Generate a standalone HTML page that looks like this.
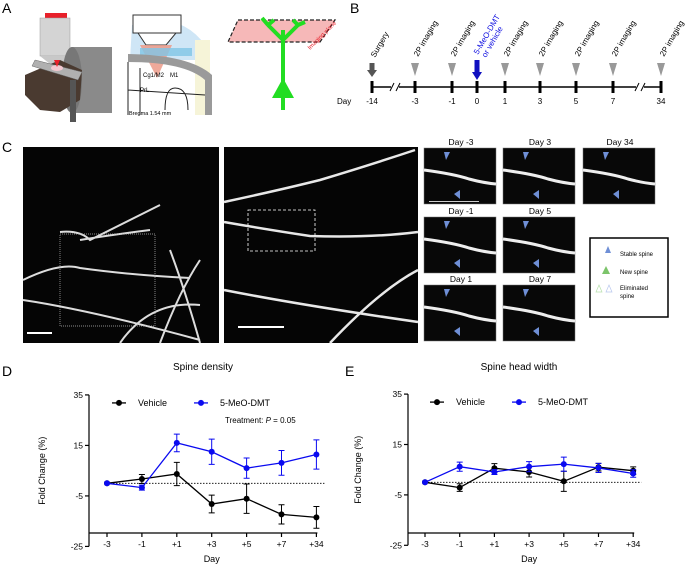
<!DOCTYPE html>
<html><head><meta charset="utf-8"><style>
html,body{margin:0;padding:0;background:#fff;}
svg{display:block;font-family:"Liberation Sans",Arial,sans-serif;}
</style></head><body>
<svg id="fig" width="685" height="569" viewBox="0 0 685 569" xmlns="http://www.w3.org/2000/svg">
<rect width="685" height="569" fill="#fff"/>
<g>
<text x="2" y="13" font-size="14">A</text>
<rect x="45" y="13" width="22" height="5" fill="#e8202a"/>
<rect x="40" y="18" width="30" height="38" fill="#d4d4d4" stroke="#999" stroke-width="0.5"/>
<polygon points="40,56 70,56 60,64 50,64" fill="#c8c8c8"/>
<rect x="72" y="47" width="40" height="66" fill="#8a8a8a"/>
<ellipse cx="72" cy="80" rx="10" ry="33" fill="#777"/>
<path d="M25,75 L60,60 L82,70 L80,100 L60,112 L40,110 L25,95 Z" fill="#4a3a30"/>
<polygon points="35,60 82,72 78,80 32,66" fill="#b0b0b0" stroke="#666" stroke-width="0.5"/>
<ellipse cx="57" cy="68" rx="6" ry="3" fill="#f3c8d0"/>
<polygon points="54,60 60,60 57,67" fill="#e8202a"/>
<rect x="70" y="80" width="6" height="42" fill="#555"/>
<path d="M132,25 Q180,10 205,45 L200,60 L130,60 Z" fill="#cfe6f6"/>
<rect x="133" y="15" width="48" height="18" fill="#fff" stroke="#333" stroke-width="1"/>
<polygon points="138,33 176,33 166,45 146,45" fill="#fff" stroke="#333" stroke-width="1"/>
<polygon points="140,45 172,45 157,78" fill="#ec9a88" opacity="0.85"/>
<rect x="140" y="48" width="52" height="8" fill="#7fc6e6" opacity="0.8"/>
<rect x="195" y="40" width="15" height="75" fill="#f6f4d8"/>
<path d="M128,54 Q190,55 212,75 L212,115 L205,115 L205,80 Q185,62 128,62 Z" fill="#9a9a9a"/>
<path d="M128,62 L128,115 M140,68 L140,115 M128,90 L205,95 M165,110 Q165,88 175,88 Q188,88 188,110" fill="none" stroke="#222" stroke-width="1"/>
<text x="143" y="77" font-size="6">Cg1/M2</text>
<text x="170" y="77" font-size="6">M1</text>
<text x="140" y="92" font-size="6">PrL</text>
<text x="129" y="115" font-size="5.5">Bregma 1.54 mm</text>
<polygon points="238,20 335,20 320,42 228,42" fill="#f6b8b8" stroke="#222" stroke-dasharray="4,2" stroke-width="1.2"/>
<path d="M283,38 L283,110 M283,40 L268,25 M283,40 L298,25 M268,25 L262,18 M268,25 L274,20 M298,25 L293,20 M298,25 L305,22 M283,38 L283,30" stroke="#22dd22" stroke-width="4" fill="none"/>
<polygon points="283,78 272,98 294,98" fill="#22dd22"/>
<text x="310" y="50" font-size="6" fill="#e8202a" transform="rotate(-45 310 50)">Imaging plane</text>
</g>
<g id="panelB">
<text x="350" y="13" font-size="14">B</text>
<text x="337" y="104" font-size="8">Day</text>
</g>
<g>
<text x="2" y="152" font-size="14">C</text>
<rect x="23" y="147" width="196" height="196" fill="#050505"/>
<path d="M23,280 Q60,262 80,268 Q130,275 190,278 M80,240 Q110,235 150,230 M60,232 Q80,230 90,240 Q110,230 160,205 M23,300 Q90,310 200,340 M160,343 Q180,290 200,260 M200,343 Q185,290 170,250 M120,343 Q150,300 200,305" stroke="#ddd" stroke-width="2" fill="none"/>
<rect x="60" y="234" width="95" height="92" fill="none" stroke="#bbb" stroke-dasharray="1,1" stroke-width="0.7"/>
<rect x="27" y="332" width="25" height="2" fill="#fff"/>
<rect x="224" y="147" width="194" height="196" fill="#050505"/>
<path d="M224,202 Q280,190 320,180 Q370,165 415,150 M224,222 Q270,230 310,236 Q370,238 418,232 M224,290 Q300,305 418,322 M330,343 Q380,290 418,270" stroke="#e8e8e8" stroke-width="2.5" fill="none"/>
<rect x="248" y="210" width="67" height="41" fill="none" stroke="#fff" stroke-dasharray="3,2" stroke-width="0.8"/>
<rect x="238" y="326" width="46" height="2" fill="#fff"/>
</g>
<g id="smallImgs"></g>
<g>
<rect x="590" y="238" width="78" height="79" fill="#fff" stroke="#000" stroke-width="1.5"/>
<polygon points="605,253 611,253 608,246" fill="#6f8fd6"/>
<text x="620" y="256" font-size="6">Stable spine</text>
<polygon points="602,274 610,274 606,266" fill="#7cc46a"/>
<text x="620" y="274" font-size="6">New spine</text>
<polygon points="596,292 602,292 599,285" fill="none" stroke="#b7e0ac" stroke-width="0.7"/>
<polygon points="606,292 612,292 609,285" fill="none" stroke="#b8c6ee" stroke-width="0.7"/>
<text x="620" y="290" font-size="6">Eliminated</text>
<text x="620" y="298" font-size="6">spine</text>
</g>
<text x="2" y="376" font-size="14">D</text>
<text x="345" y="376" font-size="14">E</text>
<g id="chartD"></g>
<g id="chartE"></g>
</svg>
<script>
const NS="http://www.w3.org/2000/svg";
function mk(parent,tag,attrs,text){const e=document.createElementNS(NS,tag);for(const k in attrs)e.setAttribute(k,attrs[k]);if(text!==undefined)e.textContent=text;parent.appendChild(e);return e;}

const tlDays=["-14","-3","-1","0","1","3","5","7","34"];
const tlX=[372,415,452,477,505,540,576,613,661];
(function(){
 const g=document.getElementById('panelB');
 let l=mk(g,'line',{x1:372,y1:87,x2:661,y2:87,stroke:'#000','stroke-width':1.5});
 
 tlDays.forEach((d,i)=>{
  const x=tlX[i];
  const tk=mk(g,'rect',{x:x-1.5,y:81,width:3,height:12,fill:'#000'});
  
  const t=mk(g,'text',{x:x,y:104,'font-size':8,'text-anchor':'middle'},d);
  
  if(d==="-14"){
   mk(g,'rect',{x:x-2.5,y:63,width:5,height:7,fill:'#555'});
   mk(g,'polygon',{points:`${x-5},70 ${x+5},70 ${x},77`,fill:'#555'});
   const s=mk(g,'text',{x:x+3,y:58,'font-size':8,transform:`rotate(-60 ${x+3} 58)`},'Surgery');
   
  } else if(d==="0"){
   mk(g,'rect',{x:x-2.5,y:60,width:5,height:12,fill:'#1010c0'});
   mk(g,'polygon',{points:`${x-5},72 ${x+5},72 ${x},80`,fill:'#1010c0'});
   const s=mk(g,'text',{x:x+1,y:55,'font-size':8,fill:'#1010e0',transform:`rotate(-60 ${x+1} 55)`},'5-MeO-DMT');
   
   const s2=mk(g,'text',{x:x+9,y:58,'font-size':8,fill:'#1010e0',transform:`rotate(-60 ${x+9} 58)`},'or vehicle');
   
  } else {
   const tr=mk(g,'polygon',{points:`${x-4},63 ${x+4},63 ${x},76`,fill:'#999'});
   
   const s=mk(g,'text',{x:x+3,y:57,'font-size':8,transform:`rotate(-60 ${x+3} 57)`},'2P imaging');
   
  }
 });
 [[395,87],[640,87]].forEach(p=>{
  mk(g,'rect',{x:p[0]-4,y:82,width:8,height:10,fill:'#fff'});
  mk(g,'path',{d:`M${p[0]-5},91 L${p[0]-1},83 M${p[0]+1},91 L${p[0]+5},83`,stroke:'#000','stroke-width':1});
 });
})();

const smallTitles=["Day -3","Day 3","Day 34","Day -1","Day 5","Day 1","Day 7"];
const smallPos=[[424,148],[503,148],[583,148],[424,217],[503,217],[424,285],[503,285]];
(function(){
 const g=document.getElementById('smallImgs');
 smallTitles.forEach((t,i)=>{
  const [x,y]=smallPos[i];
  const tt=mk(g,'text',{x:x+37,y:y-3,'font-size':8.5,'text-anchor':'middle'},t);
  
  const r=mk(g,'rect',{x:x,y:y,width:72,height:56,fill:'#080808',stroke:'#777','stroke-width':0.5});
  
  mk(g,'path',{d:`M${x},${y+22} Q${x+30},${y+26} ${x+45},${y+31} Q${x+60},${y+35} ${x+72},${y+36}`,stroke:'#eee','stroke-width':3,fill:'none'});
  mk(g,'polygon',{points:`${x+20},${y+4} ${x+26},${y+4} ${x+22},${y+12}`,fill:'#6f8fd6'});
  mk(g,'polygon',{points:`${x+30},${y+46} ${x+36},${y+42} ${x+36},${y+51}`,fill:'#6f8fd6'});
 });
 mk(g,'rect',{x:429,y:201,width:50,height:1,fill:'#ccc'});
})();

const days=["-3","-1","+1","+3","+5","+7","+34"];
const yTicks=[35,15,-5,-25];
const dVehicle=[0,1.7,3.7,-8.2,-6.1,-12.3,-13.5];
const dVehicleErr=[0,1.8,4.6,3.5,5.8,3.8,4.3];
const dDrug=[0,-1.7,16,12.5,6,8.1,11.4];
const dDrugErr=[0,1,3.5,5,4,4.9,5.8];
const eVehicle=[0,-2.1,5.6,4.1,0.4,6,4.6];
const eVehicleErr=[0,1.5,1.8,2,4,1.5,1.5];
const eDrug=[0,6.2,4.1,6.2,7.2,5.7,3.5];
const eDrugErr=[0,1.8,1,2,2.8,1.8,1.5];

function drawChart(id,opt){
 const g=document.getElementById(id);
 const yOf=v=>opt.y0-v*opt.ppu;
 const xOf=i=>opt.x0+i*opt.dx;
 const tt=mk(g,'text',{x:opt.titleX,y:370,'font-size':10,'text-anchor':'middle'},opt.title);
 
 const ya=mk(g,'line',{x1:opt.ax,y1:yOf(35),x2:opt.ax,y2:yOf(-25),stroke:'#000','stroke-width':1.2});
 
 yTicks.forEach(v=>{
  const y=yOf(v);
  mk(g,'line',{x1:opt.ax-4,y1:y,x2:opt.ax,y2:y,stroke:'#000','stroke-width':1.2});
  const t=mk(g,'text',{x:opt.ax-6,y:y+3,'font-size':8.5,'text-anchor':'end'},String(v));
  
 });
 const xl=opt.ax+opt.ylabOff;
 const yt=mk(g,'text',{x:xl,y:yOf(5),'font-size':9,'text-anchor':'middle',transform:`rotate(-90 ${xl} ${yOf(5)})`},'Fold Change (%)');
 
 const axY=533;
 const xa=mk(g,'line',{x1:opt.ax,y1:axY,x2:xOf(6)+1,y2:axY,stroke:'#000','stroke-width':1.2});
 
 days.forEach((d,i)=>{
  mk(g,'line',{x1:xOf(i),y1:axY,x2:xOf(i),y2:axY+4,stroke:'#000','stroke-width':1.2});
  const t=mk(g,'text',{x:xOf(i),y:axY+14,'font-size':8.5,'text-anchor':'middle'},d);
  
 });
 const xt=mk(g,'text',{x:(xOf(0)+xOf(6))/2,y:562,'font-size':9,'text-anchor':'middle'},'Day');
 
 const bl=mk(g,'line',{x1:xOf(0),y1:yOf(0),x2:xOf(6)+8,y2:yOf(0),stroke:'#000','stroke-width':0.9,'stroke-dasharray':'1.5,1.5'});
 
 const series=[[opt.veh,opt.vehE,'#000','vehicle'],[opt.drug,opt.drugE,'#0a0af0','5-meo-dmt']];
 series.forEach(([vals,errs,c,nm])=>{
  const sg=mk(g,'g',{});
  
  vals.forEach((v,i)=>{
   if(errs[i]>0){
    const x=xOf(i),y1=yOf(v+errs[i]),y2=yOf(v-errs[i]);
    const eb=mk(sg,'path',{d:`M${x},${y1} L${x},${y2} M${x-3},${y1} L${x+3},${y1} M${x-3},${y2} L${x+3},${y2}`,stroke:c,'stroke-width':1});
    
   }
  });
  const pl=mk(sg,'polyline',{points:vals.map((v,i)=>xOf(i)+','+yOf(v)).join(' '),fill:'none',stroke:c,'stroke-width':1.3});
  
  vals.forEach((v,i)=>{
   const p=mk(sg,'circle',{cx:xOf(i),cy:yOf(v),r:3,fill:c});
   
  });
 });
 const lg=mk(g,'g',{});
 
 const ly=yOf(35)+8;
 [[opt.legX,'#000','Vehicle'],[opt.legX+82,'#0a0af0','5-MeO-DMT']].forEach(([x,c,t])=>{
  mk(lg,'line',{x1:x,y1:ly,x2:x+14,y2:ly,stroke:c,'stroke-width':1.3});
  mk(lg,'circle',{cx:x+7,cy:ly,r:3,fill:c});
  const tx=mk(lg,'text',{x:x+26,y:ly+3,'font-size':9},t);
  
 });
 if(opt.note){
  const n=mk(g,'text',{x:opt.noteX,y:yOf(25)+3,'font-size':8},'');
  
  n.innerHTML='Treatment: <tspan font-style="italic">P</tspan> = 0.05';
 }
}
drawChart('chartD',{title:'Spine density',titleX:203,ax:89,y0:483.3,ppu:2.525,x0:107,dx:34.9,ylabOff:-44,legX:112,veh:dVehicle,vehE:dVehicleErr,drug:dDrug,drugE:dDrugErr,note:true,noteX:225});
drawChart('chartE',{title:'Spine head width',titleX:519,ax:408,y0:482.3,ppu:2.52,x0:425,dx:34.7,ylabOff:-47,legX:430,veh:eVehicle,vehE:eVehicleErr,drug:eDrug,drugE:eDrugErr,note:false});
</script>
</body></html>
